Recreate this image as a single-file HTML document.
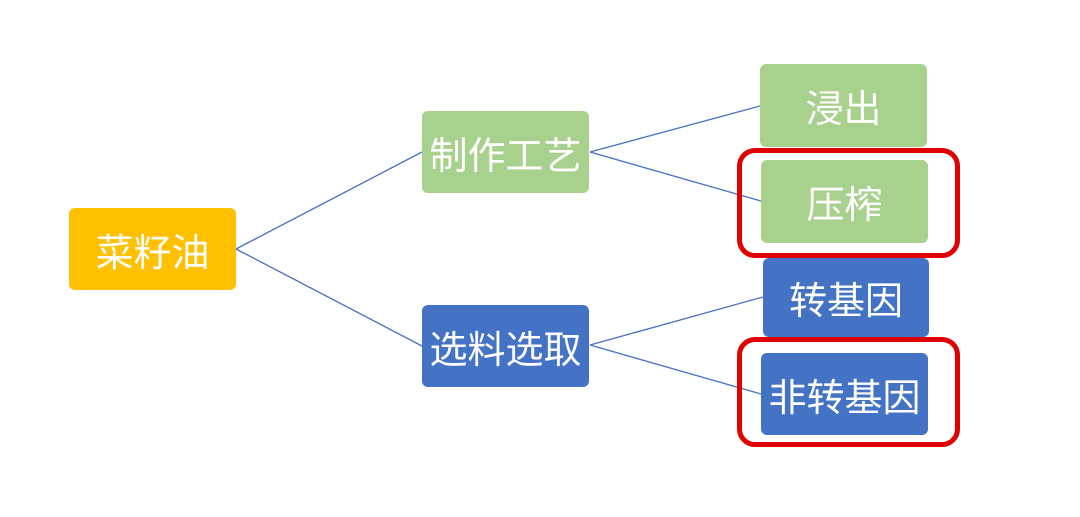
<!DOCTYPE html>
<html><head><meta charset="utf-8"><style>
html,body{margin:0;padding:0;background:#fff;}
body{width:1080px;height:517px;position:relative;overflow:hidden;font-family:"Liberation Sans","Noto Sans CJK SC",sans-serif;}
.b{position:absolute;border-radius:6px;color:#fff;font-size:38px;display:flex;align-items:center;justify-content:center;}
.y{background:#FFC000}.g{background:#A9D18E}.u{background:#4472C4}
.r{position:absolute;border:5px solid #E00000;border-radius:18px;box-sizing:border-box;}
svg{position:absolute;left:0;top:0}
</style></head><body>
<svg width="1080" height="517"><g stroke="#4472C4" stroke-width="1.3" fill="none">
<line x1="236" y1="249" x2="422" y2="152"/><line x1="236" y1="249" x2="422" y2="346"/>
<line x1="590" y1="152" x2="760" y2="106"/><line x1="590" y1="152" x2="761" y2="201"/>
<line x1="590" y1="345" x2="763" y2="297"/><line x1="590" y1="345" x2="761" y2="394"/>
</g></svg>
<div class="b y" style="left:69px;top:208px;width:167px;height:82px">菜籽油</div>
<div class="b g" style="left:422px;top:111px;width:167px;height:82px">制作工艺</div>
<div class="b u" style="left:422px;top:305px;width:167px;height:82px">选料选取</div>
<div class="b g" style="left:760px;top:64px;width:167px;height:83px">浸出</div>
<div class="b g" style="left:761px;top:160px;width:167px;height:83px">压榨</div>
<div class="b u" style="left:763px;top:258px;width:166px;height:79px">转基因</div>
<div class="b u" style="left:761px;top:353px;width:167px;height:82px">非转基因</div>
<div class="r" style="left:737px;top:148px;width:223px;height:110px"></div>
<div class="r" style="left:737px;top:337px;width:223px;height:110px"></div>
</body></html>
